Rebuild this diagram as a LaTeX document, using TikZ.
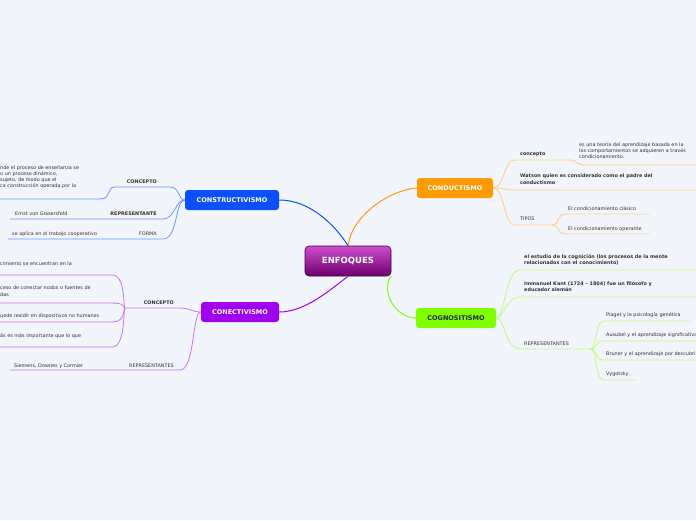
\documentclass[tikz,border=0pt]{standalone}
\usepackage{fontspec}
\setmainfont{DejaVu Sans}
\begin{document}
\begin{tikzpicture}[x=1pt,y=-1pt,
  txt/.style={font=\fontsize{4.9}{6.2}\selectfont,text=black!80,inner sep=0pt,align=left},
  btxt/.style={txt,font=\fontsize{4.9}{6.2}\selectfont\bfseries},
  mainbox/.style={rounded corners=3pt,minimum width=78pt,minimum height=20pt,text=white,font=\fontsize{6.5}{7}\selectfont\bfseries,inner sep=0pt}]
\definecolor{bg}{HTML}{F3F5FD}
\definecolor{cor}{HTML}{FF9A00}
\definecolor{cgr}{HTML}{7FFF00}
\definecolor{cbl}{HTML}{0A50FF}
\definecolor{cpu}{HTML}{A000F0}
\colorlet{lor}{cor!45}
\colorlet{lgr}{cgr!50}
\colorlet{lbl}{cbl!60}
\colorlet{lpu}{cpu!55}
\tikzset{oline/.style={draw=lor,line width=0.9pt},gline/.style={draw=lgr,line width=0.9pt},
 bline/.style={draw=lbl,line width=0.8pt},pline/.style={draw=lpu,line width=0.8pt}}
\fill[bg] (0,0) rectangle (696,520);
\path[use as bounding box] (0,0) rectangle (696,520);

% main nodes
\node[mainbox,fill=cor,minimum width=76pt] (cond) at (455,188) {CONDUCTISMO};
\node[mainbox,fill=cgr,text=black!85,minimum width=80pt] (cogn) at (456,318) {COGNOSITISMO};
\node[mainbox,fill=cbl,minimum width=94pt] (cons) at (232,200) {CONSTRUCTIVISMO};
\node[mainbox,fill=cpu,minimum width=78pt] (cone) at (240,312) {CONECTIVISMO};
\node[rounded corners=4pt,minimum width=86pt,minimum height=30pt,top color=violet!55!magenta!70,bottom color=violet!85!black,draw=violet!50!black,line width=0.6pt,text=white,font=\fontsize{8.5}{10}\selectfont\bfseries] (enf) at (348,261) {ENFOQUES};

% center connectors
\draw[draw=cor,line width=1pt] (enf.north) .. controls (352,215) and (390,190) .. (cond.west);
\draw[draw=cgr,line width=1pt] (enf.south east) .. controls (380,290) and (395,318) .. (cogn.west);
\draw[draw=cbl,line width=1pt] (enf.north) .. controls (335,225) and (310,200) .. (cons.east);
\draw[draw=cpu,line width=1pt] (enf.south) .. controls (330,290) and (305,312) .. (cone.east);

% CONDUCTISMO
\node[btxt,anchor=base west] (c1) at (520,155) {concepto};
\draw[oline] (cond.east) .. controls (505,188) and (503,160) .. (515,160) -- (570,160)
  .. controls (578,160) and (575,165) .. (585,165) -- (696,165);
\node[txt,anchor=north west] (c1d) at (579,142) {es una teoría del aprendizaje basada en la\\los comportamientos se adquieren a través\\condicionamiento.};
\node[btxt,anchor=north west] (c2) at (520,174) {Watson quien es considerado como el padre del\\conductismo};
\draw[oline] (cond.east) .. controls (505,188) and (505,190) .. (515,190) -- (696,190);
\node[txt,anchor=base west] (c3) at (520,220) {TIPOS};
\draw[oline] (cond.east) .. controls (505,188) and (503,225) .. (515,225) -- (552,225);
\node[txt,anchor=base west] (c31) at (568,210) {El condicionamiento clásico};
\node[txt,anchor=base west] (c32) at (568,230) {El condicionamiento operante};
\draw[oline] (552,225) .. controls (560,225) and (556,214) .. (566,214) -- (650,214);
\draw[oline] (552,225) .. controls (560,225) and (556,234) .. (566,234) -- (650,234);

% COGNOSITISMO
\node[btxt,anchor=north west] (g1) at (524,254) {el estudio de la cognición (los procesos de la mente\\relacionados con el conocimiento)};
\draw[gline] (cogn.east) .. controls (505,318) and (505,270) .. (520,270) -- (696,270);
\node[btxt,anchor=north west] (g2) at (524,281) {Immanuel Kant (1724 – 1804) fue un filósofo y\\educador alemán};
\draw[gline] (cogn.east) .. controls (505,318) and (505,297) .. (520,297) -- (696,297);
\node[txt,anchor=base west] (g3) at (524,345) {REPRESENTANTES};
\draw[gline] (cogn.east) .. controls (505,318) and (505,349) .. (520,349) -- (590,349);
\foreach \y/\t/\e [count=\i] in {316/{Piaget y la psicología genética}/690,336/{Ausubel y el aprendizaje significativo}/696,355/{Bruner y el aprendizaje por descubrimiento}/696,375/{Vygotsky .}/636}{
  \node[txt,anchor=base west] (g3\i) at (606,\y) {\t};
  \pgfmathsetmacro\yy{\y+5}
  \draw[gline] (590,349) .. controls (598,349) and (594,\yy) .. (604,\yy) -- (\e,\yy);
}

% CONSTRUCTIVISMO
\node[btxt,anchor=base east] (b1) at (157,183) {CONCEPTO};
\node[txt,anchor=north west] (b1d) at (0,165) {nde el proceso de enseñanza se\\o un proceso dinámico,\\sujeto, de modo que el\\ca construcción operada por la};
\draw[bline] (cons.west) .. controls (178,200) and (180,187) .. (170,187) -- (115,187)
  .. controls (106,187) and (112,199) .. (100,199) -- (0,199);
\node[btxt,anchor=base east] (b2) at (157,215) {REPRESENTANTE};
\node[txt,anchor=base west] (b2d) at (15,215) {Ernst von Glasersfeld};
\draw[bline] (cons.west) .. controls (175,200) and (175,219) .. (163,219) -- (10,219);
\node[txt,anchor=base east] (b3) at (157,235) {FORMA};
\node[txt,anchor=base west] (b3d) at (12,235) {se aplica en el trabajo cooperativo};
\draw[bline] (cons.west) .. controls (175,200) and (178,239) .. (163,239) -- (8,239);

% CONECTIVISMO
\node[btxt,anchor=base east] (p1) at (174,304) {CONCEPTO};
\draw[pline] (cone.west) .. controls (192,312) and (190,308) .. (180,308) -- (125,308);
\node[txt,anchor=base west] (p11) at (0,265) {cimiento se encuentran en la};
\node[txt,anchor=north west] (p12) at (0,286) {ceso de conectar nodos o fuentes de\\das};
\node[txt,anchor=base west] (p13) at (0,317) {uede residir en dispositivos no humanos};
\node[txt,anchor=base west] (p14) at (0,337) {ás es más importante que lo que};
\foreach \y in {275,303,322,347}{
  \draw[pline] (125,308) .. controls (123,308) and (126,\y) .. (112,\y) -- (0,\y);
}
\node[txt,anchor=base east] (p2) at (174,367) {REPRESENTANTES};
\node[txt,anchor=base west] (p2d) at (14,367) {Siemens, Downes y Cormier};
\draw[pline] (cone.west) .. controls (192,312) and (195,370) .. (180,370) -- (10,370);
\end{tikzpicture}
\end{document}
